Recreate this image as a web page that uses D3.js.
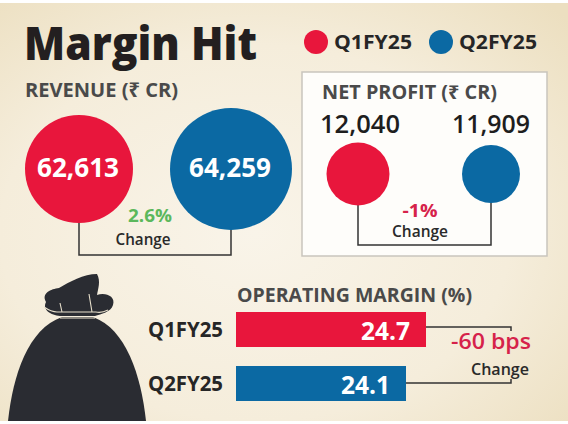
<!DOCTYPE html>
<html>
<head>
<meta charset="utf-8">
<script src="https://cdn.jsdelivr.net/npm/d3@7"></script>
<style>
  html, body { margin: 0; padding: 0; background: #fff; }
  svg { display: block; }
</style>
</head>
<body>
<svg id="chart"></svg>
<script>
const width = 568, height = 424;

const quarters = ["Q1FY25", "Q2FY25"];
const revenue = [62613, 64259];      // ₹ cr
const netProfit = [12040, 11909];    // ₹ cr
const opMargin = [24.7, 24.1];       // %
const colors = ["#e8163c", "#0b69a3"];

const fmt = d3.format(",");
// d3.format writes a unicode minus, the graphic uses a plain hyphen
const pct = (a, b) => {
    const v = (b / a - 1) * 100;
    return (Math.abs(v) >= 2 ? d3.format(".1f")(v) : d3.format(".0f")(v)).replace("\u2212", "-") + "%";
};
const revChange = pct(revenue[0], revenue[1]);
const profitChange = pct(netProfit[0], netProfit[1]);
const marginChange = Math.round((opMargin[1] - opMargin[0]) * 100) + " bps";

const svg = d3.select("#chart")
    .attr("width", width)
    .attr("height", height)
    .attr("viewBox", `0 0 ${width} ${height}`);

const defs = svg.append("defs");
const grad = defs.append("radialGradient").attr("id", "bg")
    .attr("cx", "45%").attr("cy", "55%").attr("r", "75%");
grad.append("stop").attr("offset", "0%").attr("stop-color", "#f9f4e9");
grad.append("stop").attr("offset", "60%").attr("stop-color", "#f5eddb");
grad.append("stop").attr("offset", "100%").attr("stop-color", "#ecdfc0");

svg.append("rect").attr("width", width).attr("height", height).attr("fill", "#fff");
svg.append("rect").attr("y", 3).attr("width", width).attr("height", 418).attr("fill", "url(#bg)");

const font = "'Open Sans', 'Noto Sans', sans-serif";

// text helper: fits a label to the measured width of the original
function label(g, txt, x, y, size, len, opts = {}) {
    return g.append("text")
        .attr("x", x)
        .attr("y", y)
        .attr("font-family", font)
        .attr("font-size", size)
        .attr("font-weight", opts.weight || 700)
        .attr("fill", opts.fill || "#222")
        .attr("text-anchor", opts.anchor || "start")
        .attr("textLength", len)
        .attr("lengthAdjust", "spacingAndGlyphs")
        .text(txt);
}

// title + legend
label(svg, "Margin Hit", 24, 60, 46, 233, { weight: 800, fill: "#231f20" });

const legend = svg.append("g");
const legendX = d3.scalePoint().domain(quarters).range([316, 441]);
legend.selectAll("circle")
    .data(quarters)
    .join("circle")
    .attr("cx", d => legendX(d))
    .attr("cy", 42)
    .attr("r", 12)
    .attr("fill", (d, i) => colors[i]);
quarters.forEach(q => label(legend, q, legendX(q) + 18, 49, 19, 78, { fill: "#262626" }));

// revenue circles
const rev = svg.append("g");
label(rev, "REVENUE (₹ CR)", 25, 97, 20, 153, { fill: "#4a4a4a" });

const revX = d3.scalePoint().domain(quarters).range([79, 231]);
const revR = d3.scaleLinear().domain(d3.extent(revenue)).range([54, 61]);
const revCy = 169;

rev.append("path")
    .attr("d", d3.line()([
        [revX(quarters[0]), revCy + revR(revenue[0]) - 2],
        [revX(quarters[0]), 255],
        [revX(quarters[1]), 255],
        [revX(quarters[1]), revCy + revR(revenue[1]) - 2]
    ]))
    .attr("fill", "none")
    .attr("stroke", "#333")
    .attr("stroke-width", 1.5);

rev.selectAll("circle")
    .data(revenue)
    .join("circle")
    .attr("cx", (d, i) => revX(quarters[i]))
    .attr("cy", revCy)
    .attr("r", d => revR(d))
    .attr("fill", (d, i) => colors[i]);

revenue.forEach((v, i) =>
    label(rev, fmt(v), revX(quarters[i]) - 1, 177, 26, 82, { fill: "#fff", anchor: "middle" }));

label(rev, revChange, 150, 222, 18, 44, { fill: "#5cb85c", anchor: "middle" });
label(rev, "Change", 143, 245, 16, 55, { fill: "#2a2a2a", anchor: "middle", weight: 600 });

// net profit box
const np = svg.append("g");
np.append("rect")
    .attr("x", 302).attr("y", 72)
    .attr("width", 245).attr("height", 184)
    .attr("fill", "#fefdfa")
    .attr("stroke", "#c9c5bd")
    .attr("stroke-width", 1.5);
label(np, "NET PROFIT (₹ CR)", 322, 99, 19, 175, { fill: "#4a4a4a" });

const npX = d3.scalePoint().domain(quarters).range([358, 491]);
const npR = d3.scaleLinear().domain(d3.extent(netProfit)).range([29, 31.5]);
const npCy = 174;

np.append("path")
    .attr("d", d3.line()([
        [npX(quarters[0]), npCy + npR(netProfit[0]) - 2],
        [npX(quarters[0]), 245],
        [npX(quarters[1]), 245],
        [npX(quarters[1]), npCy + npR(netProfit[1]) - 2]
    ]))
    .attr("fill", "none")
    .attr("stroke", "#333")
    .attr("stroke-width", 1.5);

np.selectAll("circle")
    .data(netProfit)
    .join("circle")
    .attr("cx", (d, i) => npX(quarters[i]))
    .attr("cy", npCy)
    .attr("r", d => npR(d))
    .attr("fill", (d, i) => colors[i]);

label(np, fmt(netProfit[0]), 320, 133, 25, 80, { fill: "#1e1e1e", weight: 600 });
label(np, fmt(netProfit[1]), 452, 133, 25, 78, { fill: "#1e1e1e", weight: 600 });
label(np, profitChange, 420, 217, 17, 35, { fill: "#d6224a", anchor: "middle" });
label(np, "Change", 420, 237, 16, 56, { fill: "#2a2a2a", anchor: "middle", weight: 600 });

// money bag (decoration)
const bag = svg.append("g");
bag.append("path")
    .attr("d", "M62 317 C28 329 13 375 8 421 L146 421 C141 375 126 329 93 317 Z")
    .attr("fill", "#2a2c32");
bag.append("path")
    .attr("d", "M46 302 C41 293 51 289 59 288 C69 282 84 274 97 274 C101 281 98 289 97 295 C105 292 116 296 113 305 C111 312 101 314 95 316 L60 316 C51 315 42 310 46 302 Z")
    .attr("fill", "#2a2c32");
bag.append("path")
    .attr("d", "M57 312 L96 312 M60 318 L95 318 M60 303 L62 312 M89 294 L92 312 M44 307 C50 311 54 312 57 312 M96 312 C100 313 104 312 108 310")
    .attr("fill", "none")
    .attr("stroke", "#e9e1cd")
    .attr("stroke-width", 1.1);

// operating margin bars
const om = svg.append("g");
label(om, "OPERATING MARGIN (%)", 237, 302, 20, 235, { fill: "#4a4a4a" });

const x = d3.scaleLinear().domain([19, 25]).range([236, 436]);
const y = d3.scalePoint().domain(quarters).range([329.5, 383.5]);
const barH = 35;

om.selectAll("rect")
    .data(opMargin)
    .join("rect")
    .attr("x", x(19))
    .attr("y", (d, i) => y(quarters[i]) - barH / 2)
    .attr("width", d => x(d) - x(19))
    .attr("height", barH)
    .attr("fill", (d, i) => colors[i]);

opMargin.forEach((v, i) => {
    label(om, v.toFixed(1), x(v) - 16, y(quarters[i]) + 10, 25, 49, { fill: "#fff", anchor: "end" });
    label(om, quarters[i], 148, y(quarters[i]) + 7.5, 21, 75, { fill: "#262626" });
});

// bracket between the bar ends
const bx = 511;
const by = [y(quarters[0]) - 2.5, y(quarters[1]) - 0.5];
om.append("path")
    .attr("d", `M${x(opMargin[0])} ${by[0]} H${bx} V${by[0] + 4} M${x(opMargin[1])} ${by[1]} H${bx} V${by[1] - 4}`)
    .attr("fill", "none")
    .attr("stroke", "#333")
    .attr("stroke-width", 1.5);

label(om, marginChange, 491, 349, 22, 80, { fill: "#d6224a", anchor: "middle", weight: 600 });
label(om, "Change", 500, 375, 16, 58, { fill: "#2a2a2a", anchor: "middle", weight: 600 });
</script>
</body>
</html>
